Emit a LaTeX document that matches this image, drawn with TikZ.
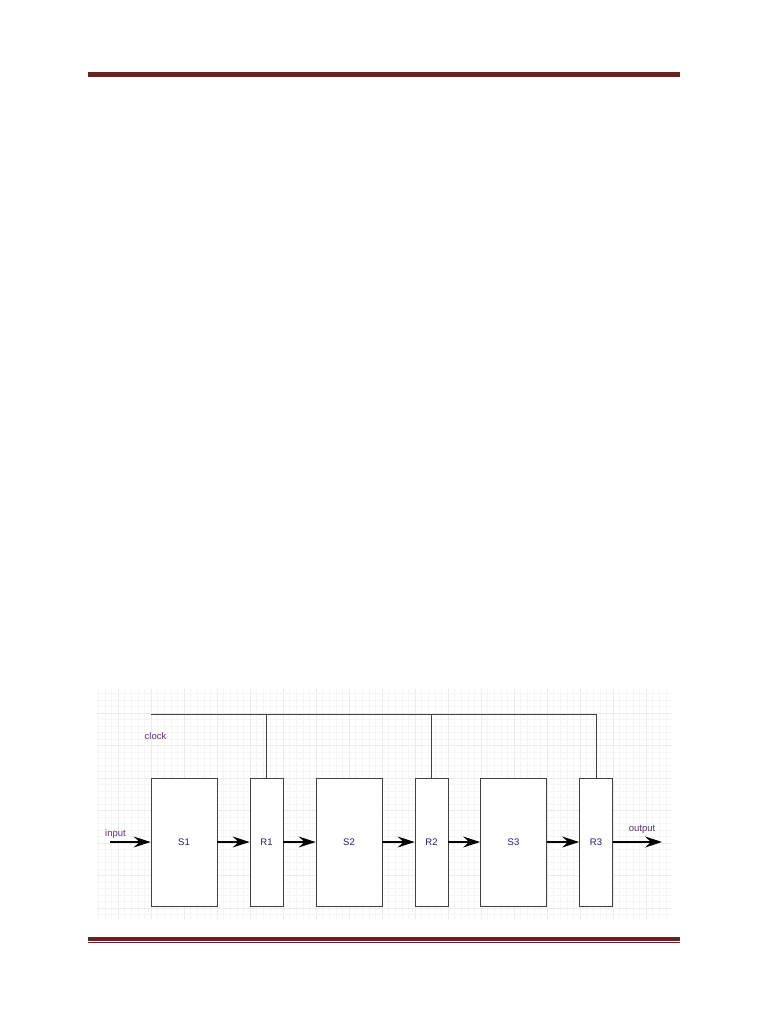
\documentclass[tikz,border=0pt]{standalone}
\usepackage{fontspec}
\setmainfont{Liberation Sans}
\usetikzlibrary{arrows.meta}
\definecolor{barred}{RGB}{104,34,34}
\definecolor{labelpurple}{RGB}{88,52,120}
\definecolor{boxtext}{RGB}{30,30,90}
\tikzset{
  stage/.style={draw=black!75, line width=0.8pt, fill=white, minimum width=66pt, minimum height=128pt, inner sep=0pt, text=boxtext, font=\fontsize{9.5}{11}\selectfont},
  reg/.style={stage, minimum width=33pt},
  flow/.style={line width=1.2pt, -{Stealth[length=17pt, width=11pt, inset=6pt]}},
  clockline/.style={draw=black!75, line width=0.8pt},
  wirelabel/.style={text=labelpurple, font=\fontsize{9.5}{11}\selectfont, inner sep=0pt}
}
\begin{document}
\begin{tikzpicture}[x=1pt, y=-1pt]
			\useasboundingbox (0,0) rectangle (768,1024);
			% Draw the page rules
			\fill[barred] (88,72) rectangle (680,77);
			\fill[barred] (88,937) rectangle (680,940.5);
			\draw[barred, line width=0.8pt] (88,942) -- (680,942);
			% Draw the grid background
			\begin{scope}
				\clip (97,689) rectangle (672,918);
				\draw[black!4, line width=0.4pt, xstep=6.6pt, ystep=6.5pt, shift={(151,778)}] (-60,-95) grid (525,145);
				\draw[black!8, line width=0.5pt, xstep=33pt, ystep=32.5pt, shift={(151,778)}] (-60,-95) grid (525,145);
			\end{scope}
			% Draw the stages and registers
			\node[stage] (s1) at (184,842) {S1};
			\node[reg] (r1) at (266.5,842) {R1};
			\node[stage] (s2) at (349,842) {S2};
			\node[reg] (r2) at (431.5,842) {R2};
			\node[stage] (s3) at (513.5,842) {S3};
			\node[reg] (r3) at (596,842) {R3};
			% Draw the data path
			\coordinate (in) at (110,842);
			\coordinate (out) at (662,842);
			\draw[flow] (in) -- (s1.west);
			\draw[flow] (s1.east) -- (r1.west);
			\draw[flow] (r1.east) -- (s2.west);
			\draw[flow] (s2.east) -- (r2.west);
			\draw[flow] (r2.east) -- (s3.west);
			\draw[flow] (s3.east) -- (r3.west);
			\draw[flow] (r3.east) -- (out);
			\node[wirelabel] (inlabel) at (115.5,834) {input};
			\node[wirelabel] (outlabel) at (642,829) {output};
			% Draw the clock line
			\coordinate (clk) at (151,714);
			\draw[clockline] (clk) -- (clk -| r3.north) -- (r3.north);
			\draw[clockline] (r1.north) -- (r1.north |- clk);
			\draw[clockline] (r2.north) -- (r2.north |- clk);
			\node[wirelabel] (clklabel) at (155.5,736) {clock};
		\end{tikzpicture}
\end{document}
